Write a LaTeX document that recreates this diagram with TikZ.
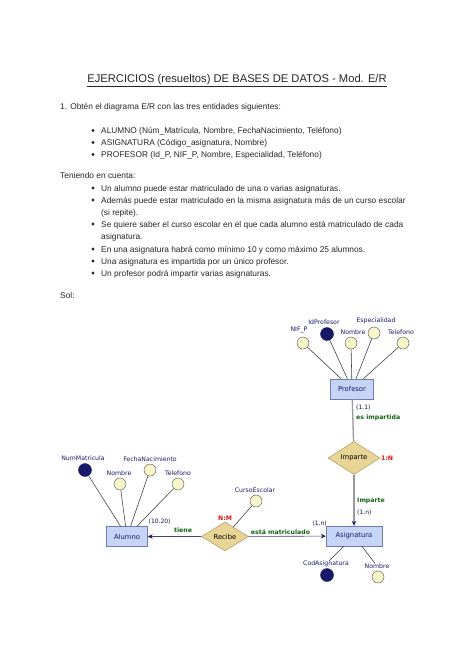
\documentclass[tikz,border=0pt]{standalone}
\usepackage{fontspec}
\setmainfont{Liberation Sans}
\newfontfamily\erfont{DejaVu Sans}
\usetikzlibrary{arrows.meta, positioning, shapes.geometric}
\definecolor{ernavy}{RGB}{25,25,105}
\definecolor{entfill}{RGB}{198,212,245}
\definecolor{entborder}{RGB}{110,125,175}
\definecolor{relfill}{RGB}{232,212,148}
\definecolor{relborder}{RGB}{160,140,90}
\definecolor{attrfill}{RGB}{246,246,200}
\definecolor{ergreen}{RGB}{20,100,20}
\definecolor{erred}{RGB}{225,20,20}
\tikzset{
  %% text of the exercise
  txt/.style     = {anchor=base west, inner sep=0pt, font=\fontsize{8.35}{10}\selectfont, text=black!85},
  %% E/R shapes
  entbox/.style  = {draw=entborder, fill=entfill, minimum height=20pt, inner sep=0pt,
                    font=\erfont\fontsize{6.8}{8}\selectfont, text=ernavy},
  relbox/.style  = {diamond, draw=relborder, fill=relfill, inner sep=0pt,
                    font=\erfont\fontsize{6.8}{8}\selectfont, text=black},
  attr/.style    = {circle, draw=gray!60!black, fill=attrfill, minimum size=12pt, inner sep=0pt},
  keyattr/.style = {circle, draw=ernavy, fill=ernavy, minimum size=13pt, inner sep=0pt},
  attrlbl/.style = {inner sep=0pt, font=\erfont\fontsize{6.2}{7}\selectfont, text=ernavy},
  rollbl/.style  = {inner sep=0pt, font=\erfont\bfseries\fontsize{6.2}{7}\selectfont, text=ergreen},
  typlbl/.style  = {inner sep=0pt, font=\erfont\bfseries\fontsize{6.2}{7}\selectfont, text=erred},
  cardlbl/.style = {inner sep=0pt, font=\erfont\fontsize{6}{7}\selectfont, text=ernavy!60!black},
  attrline/.style = {draw=gray!45!black, line width=0.55pt},
  relarr/.style  = {draw=ernavy!60!gray, line width=0.6pt, -{Stealth[length=5pt,width=4.5pt,color=ernavy]}},
  relline/.style = {draw=gray!80, line width=1.3pt},
}

\begin{document}
\begin{tikzpicture}[x=1pt, y=-1pt]

\useasboundingbox[fill=white] (0,0) rectangle (474,670);

%% ---- Statement ----
\node[inner sep=0pt, font=\fontsize{11.2}{13}\selectfont, text=black!85] (title) at (237,81)
  {\underline{EJERCICIOS (resueltos) DE BASES DE DATOS - Mod. E/R}};

\node[txt] (q1) at (60,109) {1. Obtén el diagrama E/R con las tres entidades siguientes:};

\node[txt] (e1) at (101,133.5) {ALUMNO (Núm\_Matrícula, Nombre, FechaNacimiento, Teléfono)};
\node[txt] (e2) at (101,145.5) {ASIGNATURA (Código\_asignatura, Nombre)};
\node[txt] (e3) at (101,157.5) {PROFESOR (Id\_P, NIF\_P, Nombre, Especialidad, Teléfono)};

\node[txt] (cond) at (60,178) {Teniendo en cuenta:};

\node[txt] (c1) at (101,191) {Un alumno puede estar matriculado de una o varias asignaturas.};
\node[txt] (c2) at (101,203) {Además puede estar matriculado en la misma asignatura más de un curso escolar};
\node[txt] (c2b) at (101,215) {(si repite).};
\node[txt] (c3) at (101,227) {Se quiere saber el curso escolar en el que cada alumno está matriculado de cada};
\node[txt] (c3b) at (101,239) {asignatura.};
\node[txt] (c4) at (101,252) {En una asignatura habrá como mínimo 10 y como máximo 25 alumnos.};
\node[txt] (c5) at (101,264) {Una asignatura es impartida por un único profesor.};
\node[txt] (c6) at (101,276) {Un profesor podrá impartir varias asignaturas.};

\node[txt] (sol) at (60,298) {Sol:};

%% bullets
\foreach \by in {130.5,142.5,154.5,188,200,224,249,261,273}
  \fill[black!85] (93,\by) circle (1.7);

%% ---- Entities ----
\node[entbox, minimum width=43pt] (profesor) at (352,389) {Profesor};
\node[entbox, minimum width=41pt] (alumno) at (127,536.5) {Alumno};
\node[entbox, minimum width=56pt] (asignatura) at (354,536) {Asignatura};

%% ---- Relationships ----
\node[relbox, minimum width=52pt, minimum height=30pt] (imparte) at (354,458) {Imparte};
\node[relbox, minimum width=47pt, minimum height=29pt] (recibe) at (225,536.5) {Recibe};

%% ---- Profesor attributes ----
\node[attr]    (nifp)    at (303,343) {};
\node[keyattr] (idprof)  at (327,334) {};
\node[attr]    (nomp)    at (351,343) {};
\node[attr]    (espec)   at (374,333) {};
\node[attr]    (telp)    at (403,343) {};
\node[attrlbl] (nifplbl)   at (299,330) {NIF\_P};
\node[attrlbl] (idproflbl) at (324,322) {IdProfesor};
\node[attrlbl] (nomplbl)   at (353,332) {Nombre};
\node[attrlbl] (especlbl)  at (376,321) {Especialidad};
\node[attrlbl] (telplbl)   at (401,332) {Telefono};
\foreach \a in {nifp,idprof,nomp,espec,telp}
  \draw[attrline] (\a) -- (profesor);

%% ---- Alumno attributes ----
\node[keyattr] (nummat)  at (85,470) {};
\node[attr]    (noma)    at (120,484) {};
\node[attr]    (fecha)   at (150,470) {};
\node[attr]    (tela)    at (178,484) {};
\node[attrlbl] (nummatlbl) at (83,458) {NumMatricula};
\node[attrlbl] (nomalbl)   at (119,473) {Nombre};
\node[attrlbl] (fechalbl)  at (150,459) {FechaNacimiento};
\node[attrlbl] (telalbl)   at (178,473) {Telefono};
\foreach \a in {nummat,noma,fecha,tela}
  \draw[attrline] (\a) -- (alumno);

%% ---- Asignatura attributes ----
\node[attrlbl] (codlbl)   at (326,564) {CodAsignatura};
\node[attrlbl] (nomaslbl) at (377,566) {Nombre};
\node[keyattr] (codasig)  at (327,575) {};
\node[attr]    (nomas)    at (378,577) {};
\draw[attrline] (asignatura) -- (codlbl);
\draw[attrline] (asignatura) -- (nomaslbl);

%% ---- Recibe attribute ----
\node[attrlbl] (cursolbl) at (255,490) {CursoEscolar};
\node[attr]    (curso)    at (256,501) {};
\draw[attrline] (curso) -- (recibe);

%% ---- Connectors ----
\draw[relline] (profesor) -- (imparte);
\draw[relline, -{Stealth[length=5pt,width=4.5pt,color=ernavy]}] (imparte) -- (asignatura);
\draw[relarr] (recibe) -- (alumno);
\draw[relarr] (recibe) -- (asignatura);

%% ---- Roles and cardinalities ----
\node[cardlbl, anchor=west] (cardprof) at (356,408) {(1.1)};
\node[rollbl, anchor=west]  (rolprof)  at (356,418) {es impartida};
\node[typlbl, anchor=west]  (typimp)   at (381,458) {1:N};
\node[rollbl, anchor=west]  (rolasig)  at (357,501) {Imparte};
\node[cardlbl, anchor=west] (cardasig) at (357,513) {(1.n)};
\node[cardlbl, anchor=east] (cardrec)  at (327,524) {(1.n)};
\node[rollbl]               (rolmat)   at (280.5,532) {está matriculado};
\node[typlbl]               (typrec)   at (225,518) {N:M};
\node[rollbl]               (roltiene) at (183,530.5) {tiene};
\node[cardlbl, anchor=west] (cardalu)  at (148.5,522) {(10.20)};

\end{tikzpicture}
\end{document}
